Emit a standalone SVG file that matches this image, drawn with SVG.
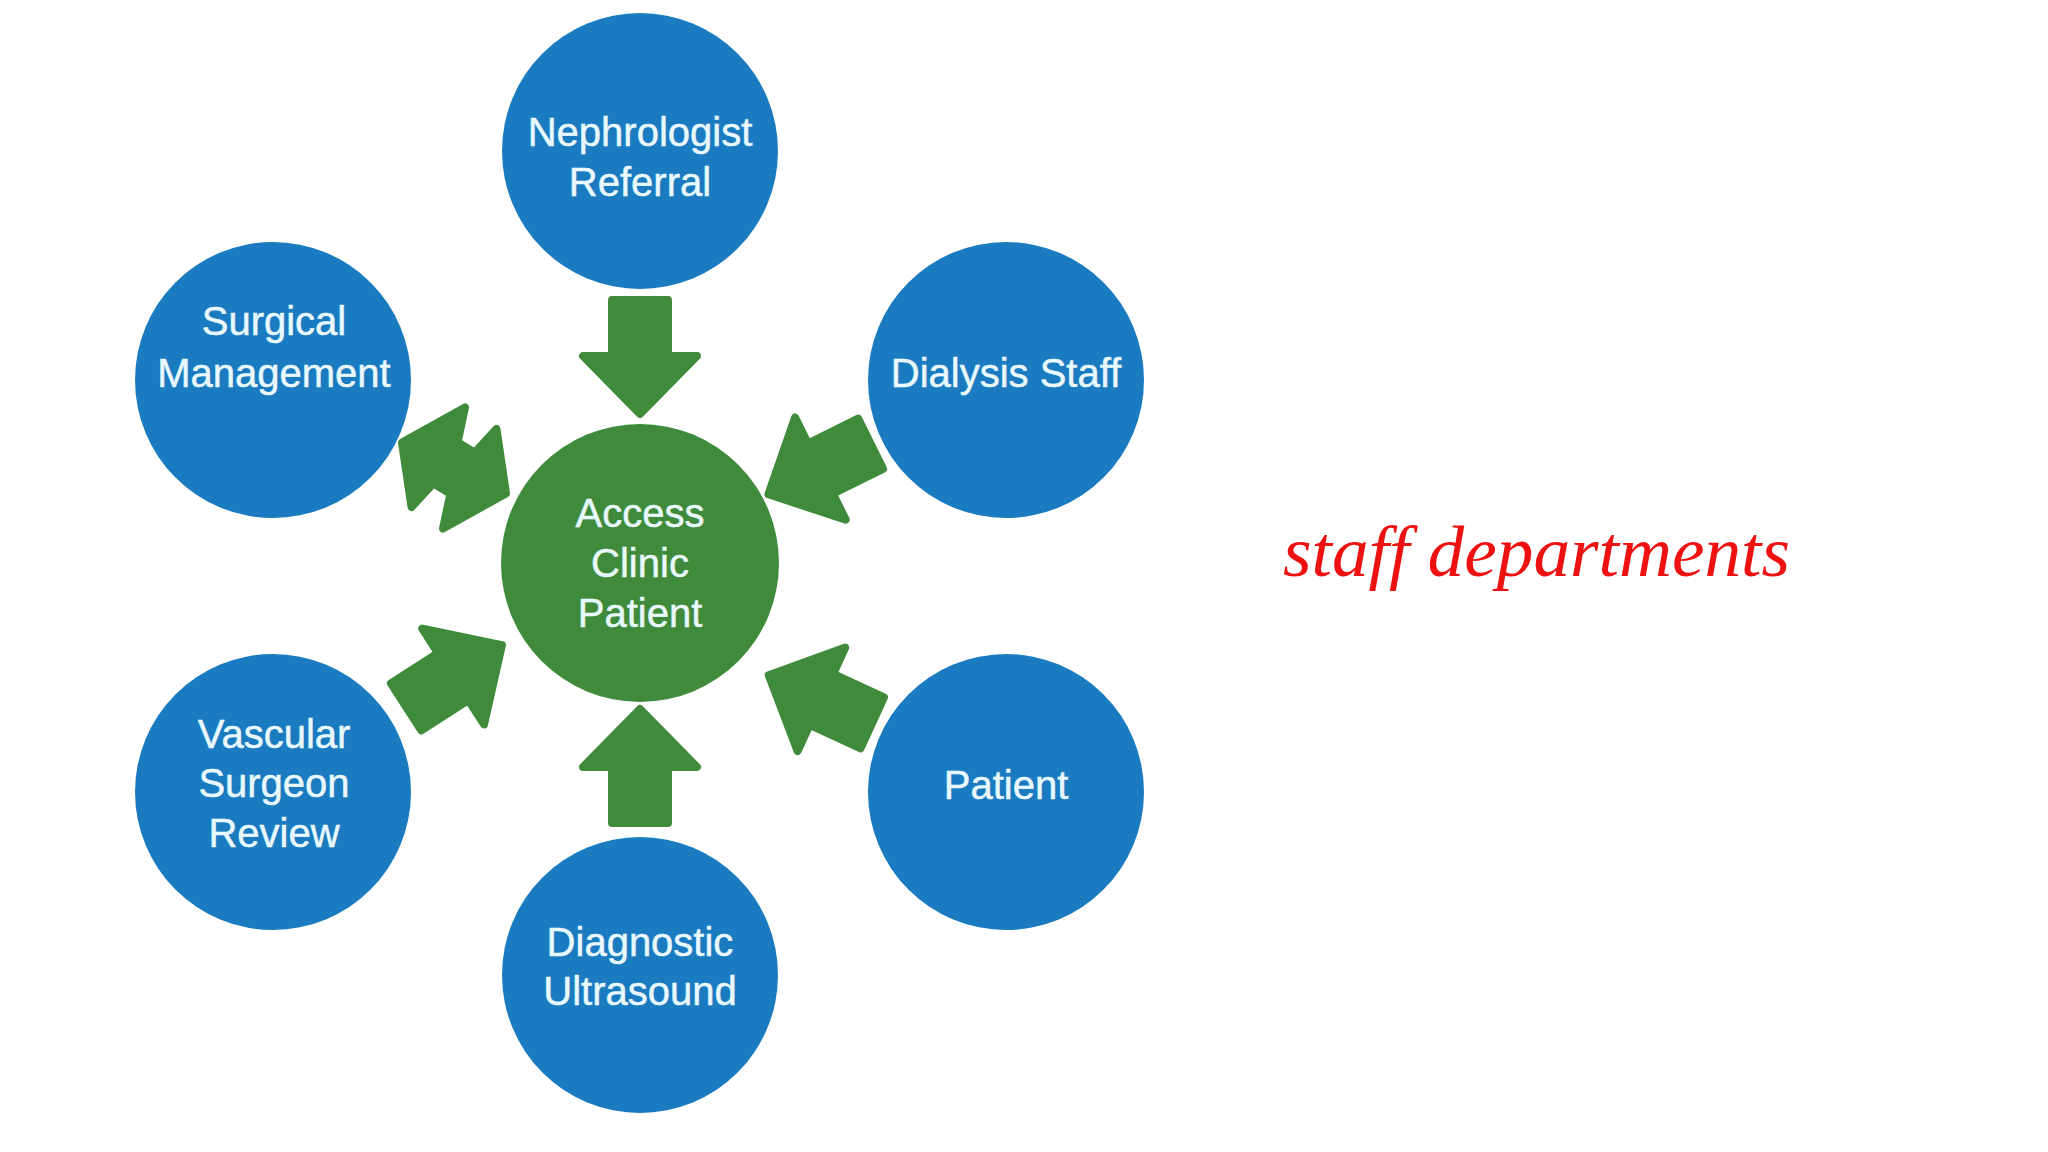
<svg xmlns="http://www.w3.org/2000/svg" width="2048" height="1152" viewBox="0 0 2048 1152">
  <defs>
    <style>
      .blue { fill: #1a7bc0; }
      .green { fill: #3f8b3b; }
      .lbl { font-family: "Liberation Sans", Arial, sans-serif; font-size: 40px; fill: #e8f8fc; stroke: #e8f8fc; stroke-width: 0.5; text-anchor: middle; }
      .arrow { fill: #3f8b3b; stroke: #3f8b3b; stroke-width: 8; stroke-linejoin: round; }
      .title { font-family: "Liberation Serif", "Times New Roman", serif; font-style: italic; font-size: 72px; fill: #ee1111; }
    </style>
    <path id="arr" d="M -57 -28 L -1 -28 L -1 -57 L 57 0 L -1 57 L -1 28 L -57 28 Z"/>
  </defs>
  <rect width="2048" height="1152" fill="#ffffff"/>

  <g id="connectors">
    <use href="#arr" class="arrow" transform="translate(640,357) rotate(90)"/>
    <use href="#arr" class="arrow" transform="translate(640,766) rotate(-90)"/>
    <use href="#arr" class="arrow" transform="translate(819.5,469) rotate(153.65)"/>
    <use href="#arr" class="arrow" transform="translate(820.5,699) rotate(-155.3)"/>
    <use href="#arr" class="arrow" transform="translate(454,676) rotate(-32.8)"/>
    <polygon class="arrow" points="465,407.5 457.6,442.1 474.6,452.6 496.5,429 506,493.5 443,528.5 450.4,493.9 433.4,483.4 411.5,507 402,442.5"/>
  </g>

  <g id="node-center">
    <circle class="green" cx="640" cy="563" r="139"/>
    <text class="lbl" x="640" y="527">Access</text>
    <text class="lbl" x="640" y="577">Clinic</text>
    <text class="lbl" x="640" y="627">Patient</text>
  </g>

  <g id="node-nephrologist">
    <circle class="blue" cx="640" cy="151" r="138"/>
    <text class="lbl" x="640" y="146">Nephrologist</text>
    <text class="lbl" x="640" y="196">Referral</text>
  </g>

  <g id="node-surgical">
    <circle class="blue" cx="273" cy="380" r="138"/>
    <text class="lbl" x="274" y="335">Surgical</text>
    <text class="lbl" x="274" y="387">Management</text>
  </g>

  <g id="node-dialysis">
    <circle class="blue" cx="1006" cy="380" r="138"/>
    <text class="lbl" x="1006" y="387">Dialysis Staff</text>
  </g>

  <g id="node-vascular">
    <circle class="blue" cx="273" cy="792" r="138"/>
    <text class="lbl" x="274" y="748">Vascular</text>
    <text class="lbl" x="274" y="797">Surgeon</text>
    <text class="lbl" x="274" y="847">Review</text>
  </g>

  <g id="node-patient">
    <circle class="blue" cx="1006" cy="792" r="138"/>
    <text class="lbl" x="1006" y="799">Patient</text>
  </g>

  <g id="node-diagnostic">
    <circle class="blue" cx="640" cy="975" r="138"/>
    <text class="lbl" x="640" y="956">Diagnostic</text>
    <text class="lbl" x="640" y="1005">Ultrasound</text>
  </g>

  <text class="title" x="1283" y="576" textLength="507" lengthAdjust="spacingAndGlyphs">staff departments</text>
</svg>
